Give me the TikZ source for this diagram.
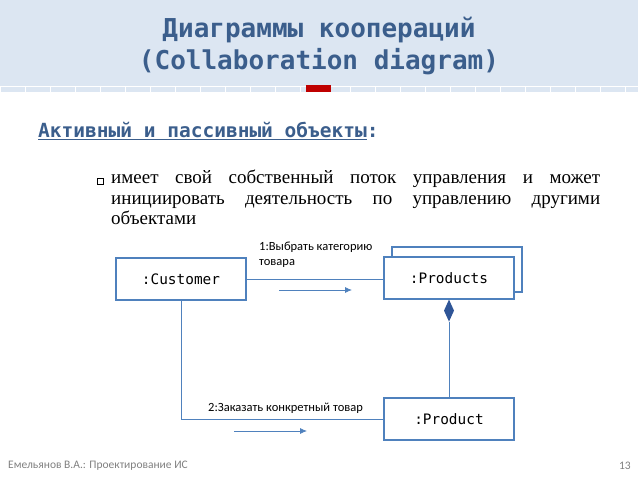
\documentclass[tikz,border=0pt]{standalone}
\usepackage{fontspec}
\setmainfont{Liberation Serif}
\newfontfamily\monof{DejaVu Sans Mono}
\newfontfamily\calf{Carlito}
\usetikzlibrary{arrows.meta}
\definecolor{hdr}{HTML}{DCE6F2}
\definecolor{ttl}{HTML}{3B5E8C}
\definecolor{ln}{HTML}{4F81BD}
\definecolor{lbox}{HTML}{2F5597}
\begin{document}
\begin{tikzpicture}[x=1pt,y=-1pt,
 obj/.style={draw=ln,line width=1.2pt,fill=white,minimum width=130pt,minimum height=42pt,inner sep=0pt,font=\monof\fontsize{14.4}{14.4}\selectfont},
 conn/.style={draw=ln,line width=0.8pt},
 msg/.style={draw=ln,line width=0.8pt,-{Latex[length=7pt,width=6pt]}},
 lbl/.style={font=\calf\fontsize{12.5}{15}\selectfont,align=left,anchor=west,inner sep=0pt}]
\useasboundingbox (0,0) rectangle (638,478);
\fill[hdr] (0,0) rectangle (638,92);
\foreach \i in {0,25,...,625} \draw[white,line width=0.6pt] (\i,86) -- (\i,92);
\draw[white,line width=0.6pt] (0,86) -- (638,86);
\fill[red!75!black] (306,85) rectangle (331,92);
\node (t1) at (319,30) {\monof\bfseries\fontsize{26}{26}\selectfont\color{ttl}Диаграммы коопераций};
\node (t2) at (319,62) {\monof\bfseries\fontsize{26}{26}\selectfont\color{ttl}(Collaboration diagram)};
\node[anchor=west,inner sep=0pt] (sub) at (38,131) {\monof\bfseries\fontsize{19.5}{19.5}\selectfont\color{ttl}\underline{Активный и пассивный объекты}:};
\node[draw=black,line width=1pt,minimum size=6pt,inner sep=0pt] (bul) at (100,182) {};
\node[anchor=north west,inner sep=0pt,text width=489pt,align=justify,font=\fontsize{19}{20.5}\selectfont] (txt) at (111,170) {имеет свой собственный поток управления и может\linebreak инициировать деятельность по управлению другими\linebreak объектами};
\node[obj] (cust) at (181,279) {:Customer};
\draw[ln,line width=1.2pt,fill=white] (392,247) rectangle (522,292);
\node[obj] (prods) at (449,278) {:Products};
\node[obj] (prod) at (449,419) {:Product};
\draw[conn] (cust.east) -- (cust.east -| prods.west);
\coordinate (corner) at (cust.south |- prod.west);
\draw[conn] (cust.south) -- (corner) -- (prod.west);
\coordinate (dtop) at (prods.south);
\draw[conn] (prod.north) -- ++(0,-75);
\fill[lbox] (dtop) -- ++(-5,11) -- ++(5,11) -- ++(5,-11) -- cycle;
\coordinate (a1) at (279,290); \coordinate (b1) at (352,290);
\draw[msg] (a1) -- (b1);
\coordinate (a2) at (234,431); \coordinate (b2) at (307,431);
\draw[msg] (a2) -- (b2);
\node[lbl] (l1) at (259,255) {1:Выбрать категорию\\товара};
\node[lbl] (l2) at (208,408) {2:Заказать конкретный товар};
\node[anchor=west,inner sep=0pt,font=\calf\fontsize{11.5}{11.5}\selectfont,text=gray] (f1) at (8,466) {Емельянов В.А.: Проектирование ИС};
\node[anchor=east,inner sep=0pt,font=\calf\fontsize{11.5}{11.5}\selectfont,text=gray] (f2) at (631,466) {13};
\end{tikzpicture}
\end{document}
